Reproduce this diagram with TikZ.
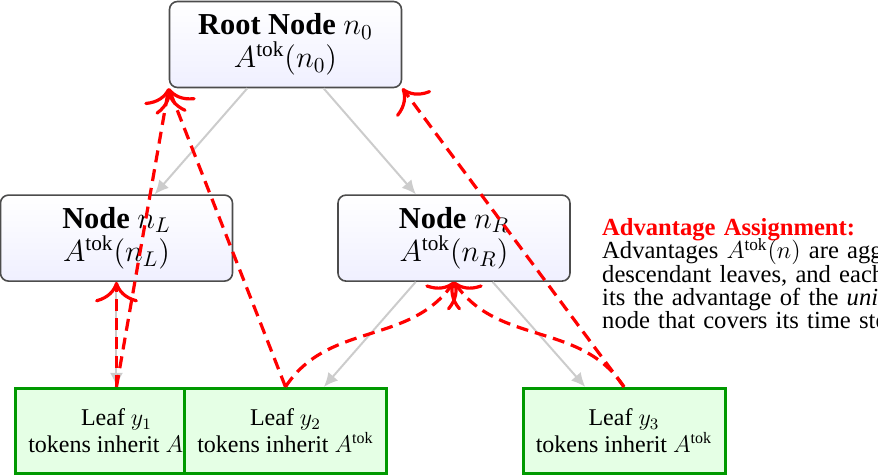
\RequirePackage{fix-cm}
\documentclass[tikz,border=0pt]{standalone}
\usepackage{amsmath}
\usepackage[no-math]{fontspec}
\setmainfont{Liberation Serif}
\usepackage{xcolor}
\usepackage{tikz}
\usetikzlibrary{positioning,arrows.meta}

\begin{document}
\begin{tikzpicture}[
    treenode/.style={
        rectangle, rounded corners=4pt, draw=black!70, line width=0.8pt,
        top color=white, bottom color=blue!6,
        minimum width=116pt, minimum height=43pt, align=center,
        font={\fontsize{15.2}{16.7}\selectfont\lineskiplimit=-50pt}
    },
    leaf/.style={
        rectangle, draw=green!60!black, line width=1.5pt, fill=green!10,
        minimum width=101pt, minimum height=42.5pt, align=center,
        font={\fontsize{12}{13.3}\selectfont\lineskiplimit=-50pt}
    },
    note/.style={
        inner sep=0pt, text width=260pt, align=left,
        font={\fontsize{12.3}{11.6}\selectfont\lineskiplimit=-50pt}
    },
    edge/.style={-{Latex[length=7pt,width=6.5pt]}, gray!40, line width=1pt},
    adv/.style={-{To[scale=2]}, red, line width=1.6pt, dash pattern=on 6pt off 3.5pt}
]
\useasboundingbox (-142.75pt,22.25pt) rectangle (296.25pt,-215.75pt);

\node[treenode] (root) at (0,0) {\textbf{Root Node} $n_0$\\$A^{\text{tok}}(n_0)$};
\node[treenode, below=53pt of root, xshift=-84.5pt] (nL) {\textbf{Node} $n_L$\\$A^{\text{tok}}(n_L)$};
\node[treenode, below=53pt of root, xshift=84.25pt] (nR) {\textbf{Node} $n_R$\\$A^{\text{tok}}(n_R)$};

\node[leaf, below=52.5pt of nL] (y1) {Leaf $y_1$\\tokens inherit $A^{\text{tok}}$};
\node[leaf, below=52.5pt of nR, xshift=-84.25pt] (y2) {Leaf $y_2$\\tokens inherit $A^{\text{tok}}$};
\node[leaf, below=52.5pt of nR, xshift=85pt] (y3) {Leaf $y_3$\\tokens inherit $A^{\text{tok}}$};

\node[note, anchor=north west] (note) at ([xshift=15.5pt, yshift=-12pt]nR.north east) {%
    \textcolor{red}{\textbf{Advantage Assignment:}}\\
    Advantages $A^{\text{tok}}(n)$ are aggregated from\\
    descendant leaves, and each token inher-\\
    its the advantage of the \emph{unique} leaf\\
    node that covers its time step.%
};

\draw[edge] (root) -- (nL);
\draw[edge] (root) -- (nR);
\draw[edge] (nL) -- (y1);
\draw[edge] (nR) -- (y2);
\draw[edge] (nR) -- (y3);

\draw[adv] (y1.north) -- (nL.south);
\draw[adv] (y1.north) -- (root.south west);
\draw[adv] (y2.north) to[out=57, in=235] (nR.south);
\draw[adv] (y2.north) -- (root.south west);
\draw[adv] (y3.north) to[out=123, in=305] (nR.south);
\draw[adv] (y3.north) -- (root.south east);

\end{tikzpicture}
\end{document}
